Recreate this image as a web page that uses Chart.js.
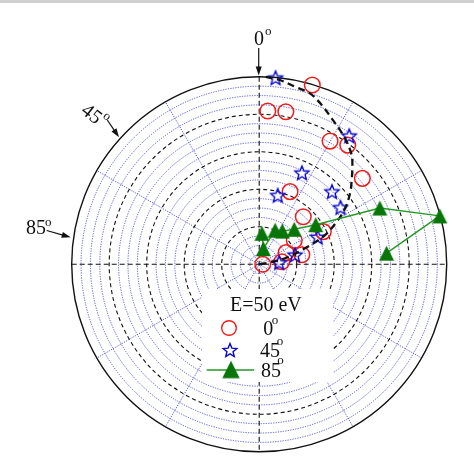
<!DOCTYPE html>
<html><head><meta charset="utf-8">
<script src="https://cdn.jsdelivr.net/npm/chart.js@4.4.1/dist/chart.umd.min.js"></script>
<style>
html,body{margin:0;padding:0;background:#fff;}
#wrap{position:relative;width:474px;height:476px;}
#topbar{position:absolute;left:0;top:0;width:474px;height:3px;background:#cfcfcf;}
canvas{display:block;}
</style></head><body>
<div id="wrap"><canvas id="c" width="474" height="476"></canvas><div id="topbar"></div></div>
<script>
// ---- data (polar: angle in degrees from the vertical, radius normalised to outer ring) ----
const energyLabel = 'E=50 eV';
const seriesLabels = ['0', '45', '85'];
const angles0 = [3.2, 9.9, 16.5, 23.0, 29.9, 36.6, 42.8, 50.2, 55.9, 63.0, 66.5, 77.4, 83.4, 90];
const radii0  = [0.819, 0.826, 0.997, 0.421, 0.758, 0.792, 0.346, 0.716, 0.226, 0.384, 0.156, 0.233, 0.121, 0.019];
const angles45 = [5, 15, 25, 35, 45, 55, 65, 75, 85];
const radii45  = [0.999, 0.381, 0.539, 0.837, 0.549, 0.529, 0.344, 0.198, 0.107];
const angles85 = [5, 15, 25, 35, 45, 55, 65, 75, 85];
const radii85  = [0.166, 0.086, 0.201, 0.216, 0.264, 0.368, 0.710, 0.997, 0.682];
const fitAngles = [2, 6.4, 11.4, 16.5, 21.4, 26.4, 31, 35.5, 40.2, 43.2, 47.7, 52, 56.9, 61.2, 66, 70.7, 76.9, 80.5, 90];
const fitRadii  = [1.0, 0.989, 0.966, 0.951, 0.913, 0.869, 0.836, 0.803, 0.764, 0.726, 0.667, 0.615, 0.547, 0.472, 0.384, 0.259, 0.141, 0.058, 0];
// grid
const minorRings = [0.05,0.10,0.15,0.25,0.30,0.35,0.45,0.50,0.55,0.65,0.70,0.75,0.85,0.90,0.95];
const majorRings = [0.2, 0.4, 0.6, 0.8];
const outerRing = 1.0;
const spokeAngles = [30, 60, 120, 150, 210, 240, 300, 330];

// ---- layout constants ----
const CX = 259.2, CY = 264.3, UNIT = 187.5, W = 474, H = 476;

const toXY = (angs, rads) => angs.map((a, i) => ({
  x: rads[i] * Math.sin(a * Math.PI / 180),
  y: rads[i] * Math.cos(a * Math.PI / 180)
}));

function makeStar(R, r, color, lw) {
  const s = Math.ceil(2 * R + 2 * lw + 2);
  const c = document.createElement('canvas'); c.width = c.height = s;
  const g = c.getContext('2d');
  g.translate(s / 2, s / 2 + R * 0.095);
  g.beginPath();
  for (let i = 0; i < 10; i++) {
    const rad = i % 2 ? r : R, a = -Math.PI / 2 + i * Math.PI / 5;
    g.lineTo(rad * Math.cos(a), rad * Math.sin(a));
  }
  g.closePath(); g.strokeStyle = color; g.lineWidth = lw; g.lineJoin = 'miter'; g.stroke();
  return c;
}
function makeTri(w, h, color) {
  const s = Math.ceil(Math.max(w, h) + 2);
  const c = document.createElement('canvas'); c.width = c.height = s;
  const g = c.getContext('2d');
  g.beginPath();
  g.moveTo(s / 2, (s - h) / 2);
  g.lineTo(s / 2 + w / 2, (s + h) / 2);
  g.lineTo(s / 2 - w / 2, (s + h) / 2);
  g.closePath(); g.fillStyle = color; g.fill();
  return c;
}
const RED = '#ee1c1c', BLUE = '#0808d0', GREEN = '#087508', GLINE = '#239a23';
const starImg = makeStar(7.4, 3.3, BLUE, 1.4);
const triImg = makeTri(15, 15, GREEN);
const starLeg = makeStar(7.2, 3.2, BLUE, 1.4);
const triLeg = makeTri(17.5, 17.5, GREEN);

const SERIF = '"Liberation Serif", "Times New Roman", serif';

const polarGrid = {
  id: 'polarGrid',
  beforeDatasetsDraw(chart) {
    const {ctx, scales: {x, y}} = chart;
    const cx = x.getPixelForValue(0), cy = y.getPixelForValue(0);
    const u = x.getPixelForValue(1) - cx;
    ctx.save();
    ctx.strokeStyle = 'rgba(70,70,215,0.9)'; ctx.lineWidth = 1; ctx.setLineDash([1.2, 1.3]);
    minorRings.forEach(r => { ctx.beginPath(); ctx.arc(cx, cy, r * u, 0, 2 * Math.PI); ctx.stroke(); });
    spokeAngles.forEach(a => {
      const t = a * Math.PI / 180;
      ctx.beginPath(); ctx.moveTo(cx, cy); ctx.lineTo(cx + u * Math.sin(t), cy - u * Math.cos(t)); ctx.stroke();
    });
    ctx.strokeStyle = '#111'; ctx.lineWidth = 1.1; ctx.setLineDash([4, 3]);
    majorRings.forEach(r => { ctx.beginPath(); ctx.arc(cx, cy, r * u, 0, 2 * Math.PI); ctx.stroke(); });
    ctx.setLineDash([5, 3]);
    ctx.beginPath();
    ctx.moveTo(cx - u, cy); ctx.lineTo(cx + u, cy);
    ctx.moveTo(cx, cy - u); ctx.lineTo(cx, cy + u);
    ctx.stroke();
    ctx.setLineDash([]); ctx.lineWidth = 1.4;
    ctx.beginPath(); ctx.arc(cx, cy, outerRing * u, 0, 2 * Math.PI); ctx.stroke();
    // legend background
    ctx.fillStyle = '#fff';
    ctx.fillRect(202, 289, 131, 93);
    ctx.restore();
  },
  afterDatasetsDraw(chart) {
    const {ctx} = chart;
    ctx.save();
    ctx.fillStyle = '#111'; ctx.textBaseline = 'alphabetic'; ctx.textAlign = 'left';
    ctx.font = '20px ' + SERIF;
    ctx.fillText(energyLabel, 230, 311);
    // entry 1: circle
    ctx.strokeStyle = RED; ctx.lineWidth = 1.4;
    ctx.beginPath(); ctx.arc(229, 328, 7.3, 0, 2 * Math.PI); ctx.stroke();
    // entry 2: star
    ctx.drawImage(starLeg, 230 - starLeg.width / 2, 350 - starLeg.height / 2);
    // entry 3: line + triangle
    ctx.strokeStyle = GLINE; ctx.lineWidth = 1.4;
    ctx.beginPath(); ctx.moveTo(206.7, 370); ctx.lineTo(254, 370); ctx.stroke();
    ctx.drawImage(triLeg, 231 - triLeg.width / 2, 369.5 - triLeg.height / 2);
    const rows = [[263.3, 335, 271.7, 323.5], [260, 356.7, 276.7, 345], [261, 377.3, 277.3, 364]];
    rows.forEach((r, i) => {
      ctx.font = '20px ' + SERIF; ctx.fillText(seriesLabels[i], r[0], r[1]);
      ctx.font = '13px ' + SERIF; ctx.fillText('o', r[2], r[3]);
    });
    ctx.restore();
  },
  afterDraw(chart) {
    const {ctx} = chart;
    ctx.save();
    ctx.fillStyle = '#111'; ctx.strokeStyle = '#111';
    const arrow = (x1, y1, x2, y2) => {
      const a = Math.atan2(y2 - y1, x2 - x1), L = 9, Wd = 3;
      ctx.lineWidth = 1.2;
      ctx.beginPath(); ctx.moveTo(x1, y1); ctx.lineTo(x2 - L * Math.cos(a) * 0.8, y2 - L * Math.sin(a) * 0.8); ctx.stroke();
      ctx.beginPath();
      ctx.moveTo(x2, y2);
      ctx.lineTo(x2 - L * Math.cos(a) - Wd * Math.sin(a), y2 - L * Math.sin(a) + Wd * Math.cos(a));
      ctx.lineTo(x2 - L * Math.cos(a) + Wd * Math.sin(a), y2 - L * Math.sin(a) - Wd * Math.cos(a));
      ctx.closePath(); ctx.fill();
    };
    // 0 deg
    ctx.font = '20px ' + SERIF; ctx.fillText('0', 254, 45);
    ctx.font = '13px ' + SERIF; ctx.fillText('o', 265, 35);
    arrow(258.7, 48, 258.7, 75.5);
    // 45 deg (rotated)
    ctx.save();
    ctx.translate(80, 112.5); ctx.rotate(38 * Math.PI / 180);
    ctx.font = '20px ' + SERIF; ctx.fillText('45', 0, 0);
    ctx.font = '13px ' + SERIF; ctx.fillText('o', 20.5, -10);
    ctx.restore();
    arrow(107.3, 120, 119, 137.3);
    // 85 deg
    ctx.font = '20px ' + SERIF; ctx.fillText('85', 26, 234);
    ctx.font = '13px ' + SERIF; ctx.fillText('o', 45, 226);
    arrow(46.7, 230.5, 70.7, 237.3);
    ctx.restore();
  }
};

new Chart(document.getElementById('c'), {
  type: 'scatter',
  data: {
    datasets: [
      { label: seriesLabels[2], data: toXY(angles85, radii85), showLine: true, borderColor: GLINE, borderWidth: 1.4,
        pointStyle: triImg, pointRadius: 7.5, order: 1 },
      { label: 'fit', data: toXY(fitAngles, fitRadii), showLine: true, borderColor: '#111', borderWidth: 2.3,
        borderDash: [7, 4.5], pointRadius: 0, tension: 0.35, order: 2 },
      { label: seriesLabels[1], data: toXY(angles45, radii45), pointStyle: starImg, pointRadius: 7.4, order: 3 },
      { label: seriesLabels[0], data: toXY(angles0, radii0), pointStyle: 'circle', pointRadius: 7.8,
        borderColor: RED, borderWidth: 1.5, backgroundColor: 'rgba(0,0,0,0)', order: 4 }
    ]
  },
  options: {
    responsive: false, animation: false,
    layout: { padding: 0, autoPadding: false },
    plugins: { legend: { display: false }, tooltip: { enabled: false } },
    events: [],
    scales: {
      x: { type: 'linear', display: false, min: -CX / UNIT, max: (W - CX) / UNIT },
      y: { type: 'linear', display: false, min: -(H - CY) / UNIT, max: CY / UNIT }
    }
  },
  plugins: [polarGrid]
});
</script>
</body></html>
